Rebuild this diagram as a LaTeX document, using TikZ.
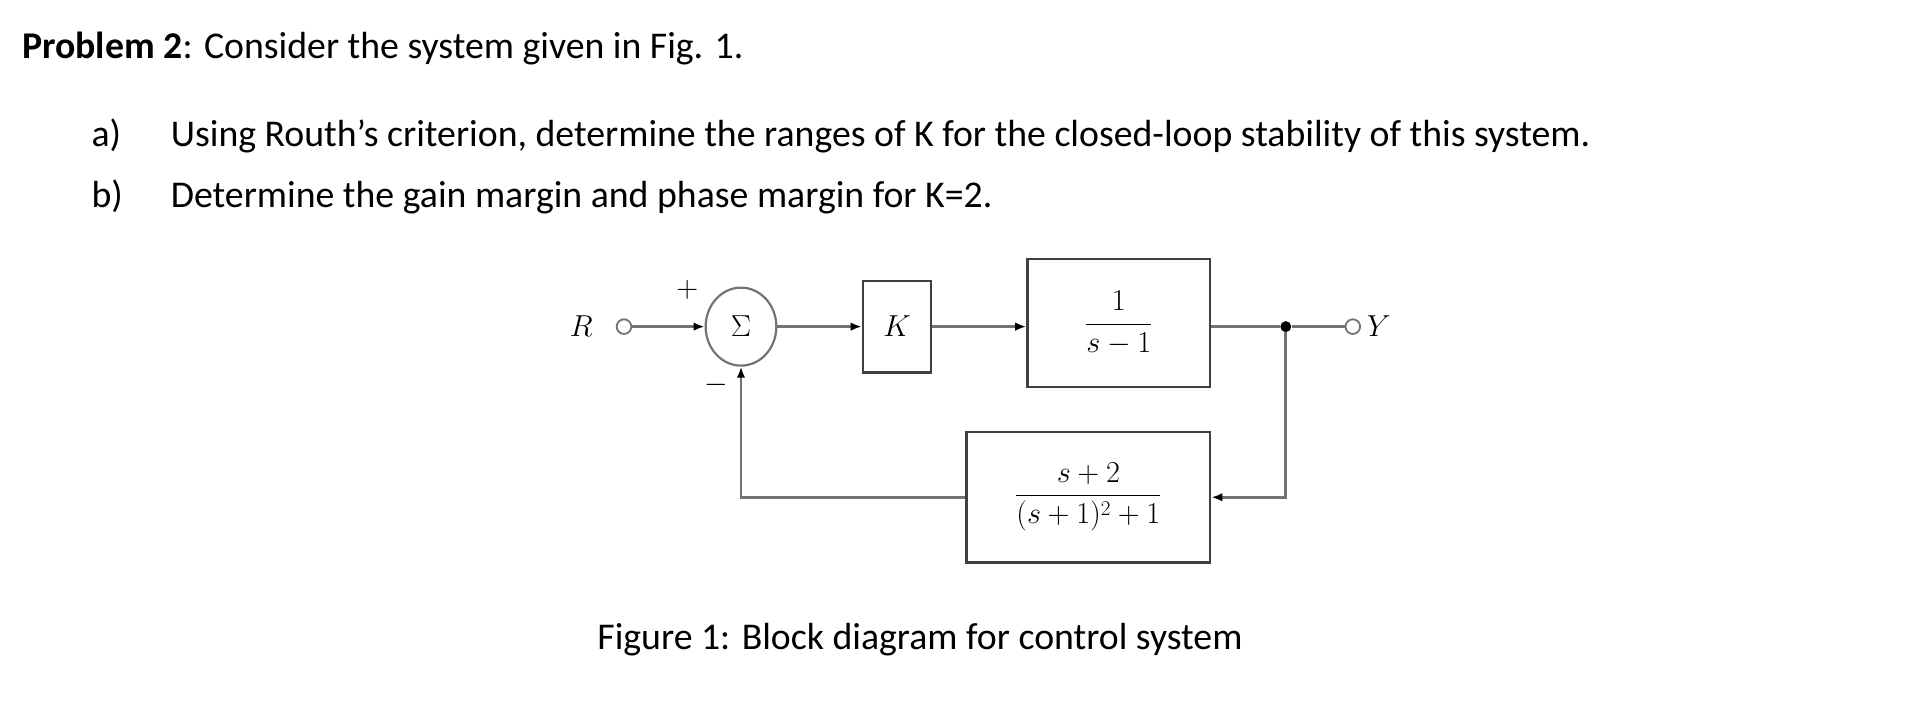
\documentclass[tikz,border=0pt]{standalone}
\usepackage{fontspec}
\setmainfont{Carlito}
\usetikzlibrary{arrows.meta,shapes.geometric}
\begin{document}
\begin{tikzpicture}[x=1pt,y=-1pt,
  txt/.style={anchor=base west,inner sep=0,font=\fontsize{31}{36}\selectfont},
  dg/.style={font=\fontsize{25}{28}\selectfont},
  ln/.style={draw=black!55,line width=2.2pt},
  arr/.style={ln,-{Latex[length=9pt,width=7pt,black]}},
  blk/.style={draw=black!75,line width=2pt,inner sep=0},
  port/.style={circle,draw=black!55,line width=1.5pt,minimum size=12pt,inner sep=0}]
\useasboundingbox (0,0) rectangle (1568,591);
\node[txt] (t1) at (18,48) {\textbf{Problem 2}: Consider the system given in Fig. 1.};
\node[txt] (la) at (75,120) {a)};
\node[txt] (ta) at (140,120) {Using Routh’s criterion, determine the ranges of K for the closed-loop stability of this system.};
\node[txt] (lb) at (75,170) {b)};
\node[txt] (tb) at (140,170) {Determine the gain margin and phase margin for K=2.};
\node[txt] (cap) at (490,533) {Figure 1: Block diagram for control system};
% diagram
\node[dg] (R) at (477,268) {$R$};
\node[port] (rin) at (512,268) {};
\node[draw=black!55,line width=1.8pt,ellipse,minimum width=58pt,minimum height=64pt,inner sep=0,dg] (sum) at (608,268) {$\Sigma$};
\node[dg] (plus) at (564,238) {$+$};
\node[dg] (minus) at (588,316) {$-$};
\node[blk,minimum width=56pt,minimum height=75pt,dg] (K) at (736,268) {$K$};
\node[blk,minimum width=150pt,minimum height=105pt,dg] (G) at (918,265) {$\displaystyle\frac{1}{s-1}$};
\node[blk,minimum width=200pt,minimum height=107pt,dg] (H) at (893,408) {$\displaystyle\frac{s+2}{(s+1)^2+1}$};
\node[circle,fill=black,inner sep=0,minimum size=9pt] (dot) at (1055,268) {};
\node[port] (yout) at (1110,268) {};
\node[dg,anchor=west] (Y) at (1118,268) {$Y$};
\draw[arr] (rin) -- (sum);
\draw[arr] (sum) -- (K);
\draw[arr] (K) -- (G.west|-K);
\draw[ln] (G.east|-dot) -- (dot) -- (yout);
\draw[arr] (dot) |- (H.east);
\draw[arr] (H.west) -| (sum.south);
\end{tikzpicture}
\end{document}
